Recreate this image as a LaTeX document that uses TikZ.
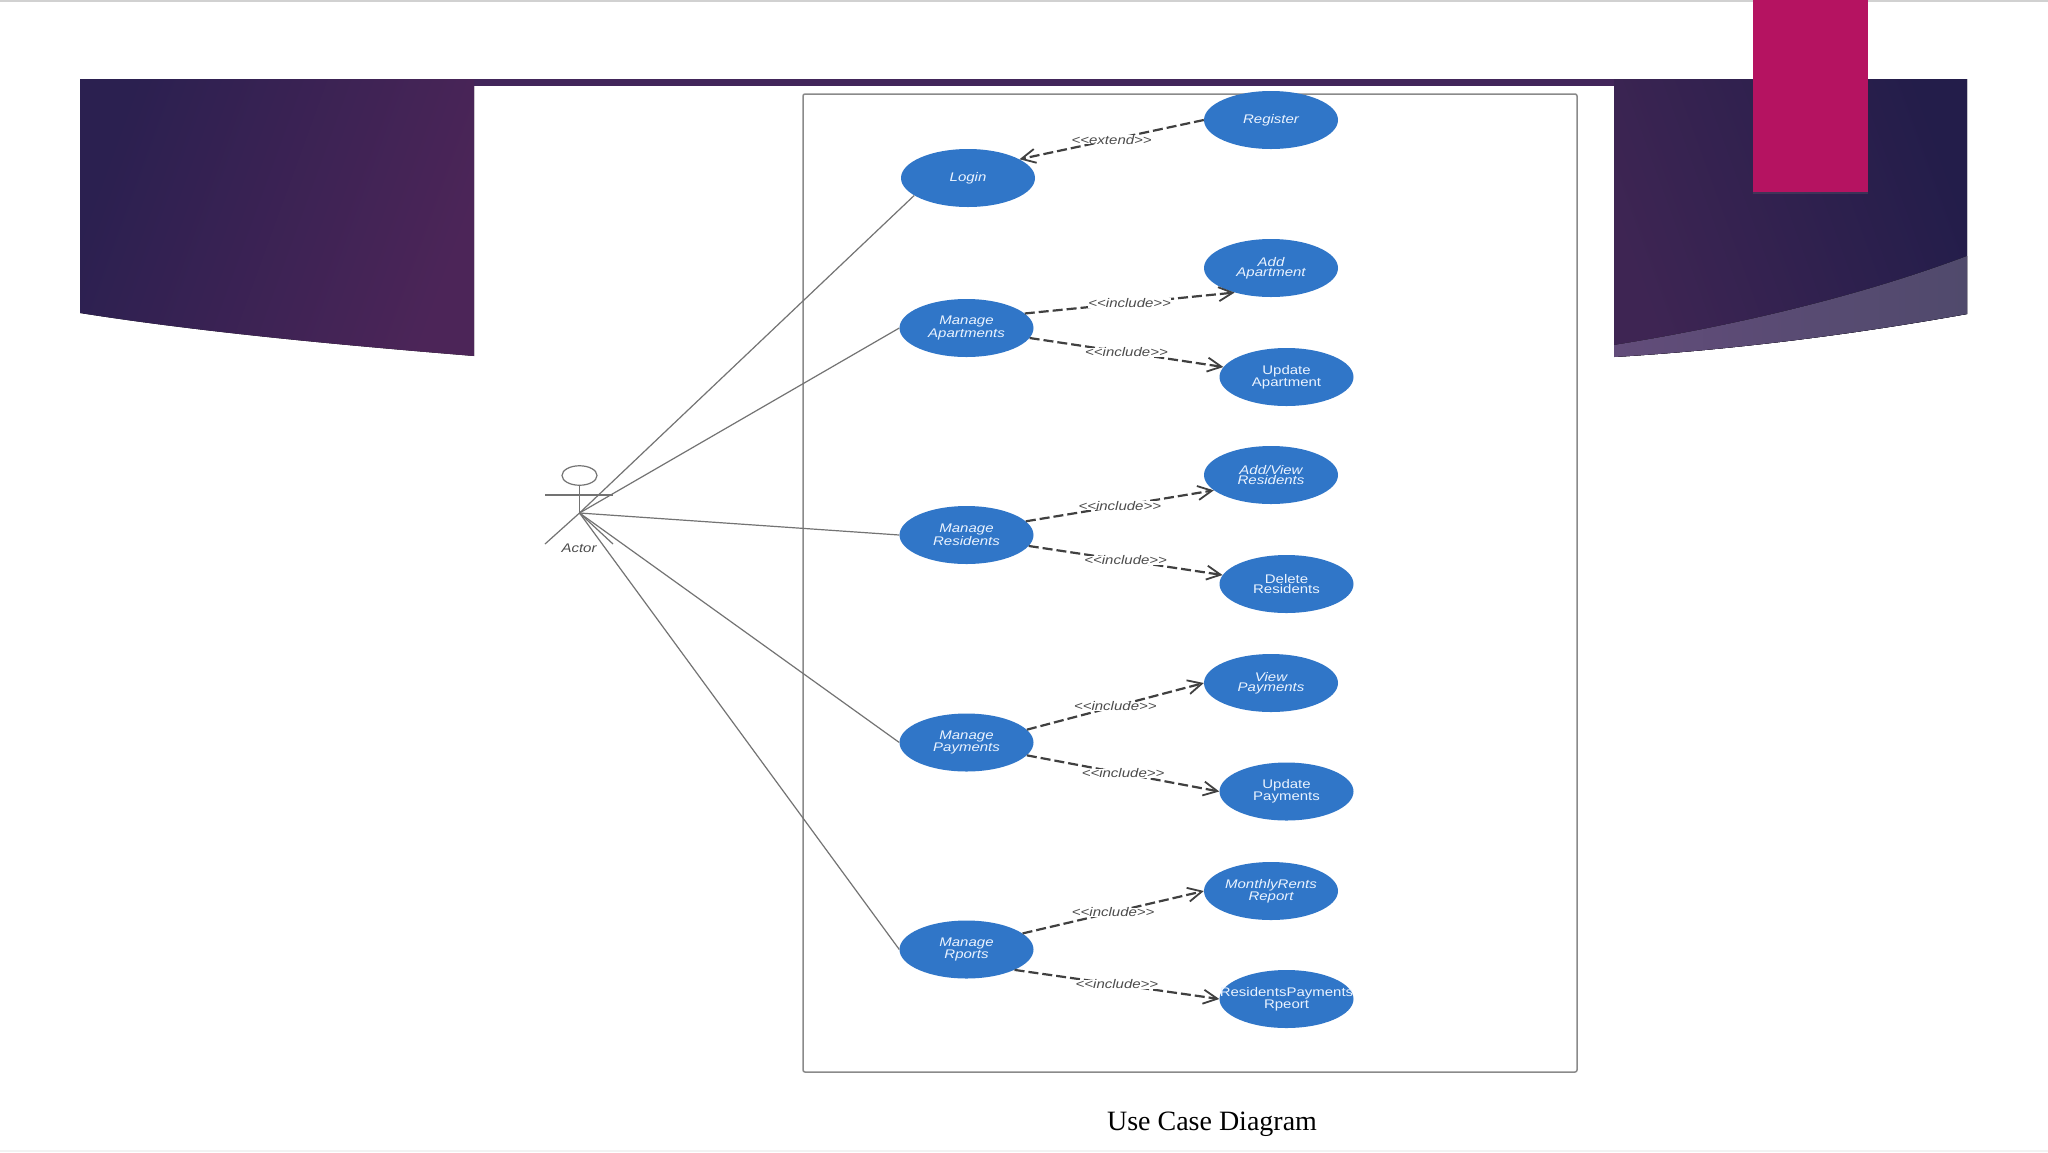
\documentclass[tikz,border=0pt]{standalone}
\usepackage{fontspec}
\setmainfont{Liberation Serif}
\newfontfamily\casefont[FakeStretch=1.2]{Liberation Sans}
\usetikzlibrary{arrows.meta}
\usetikzlibrary{shapes}
\usetikzlibrary{shadows}
\definecolor{caseblue}{HTML}{3076C8}
\definecolor{casetext}{HTML}{EAF3FF}
\definecolor{framegray}{HTML}{8A8A8A}
\definecolor{pinkbar}{HTML}{B51361}
\definecolor{bandleftA}{HTML}{2B2050}
\definecolor{bandleftB}{HTML}{4C2558}
\definecolor{bandrightA}{HTML}{3E2553}
\definecolor{bandrightB}{HTML}{231D4A}
\definecolor{swooshA}{HTML}{624C7A}
\definecolor{swooshB}{HTML}{504A6C}
\definecolor{bandstrip}{HTML}{42265A}
\tikzset{
  usecase/.style={ellipse, draw=none, fill=caseblue, text=casetext, minimum width=134pt, minimum height=58pt,
    inner sep=0pt, align=center, font=\casefont\fontsize{12.5}{10.2}\selectfont\itshape},
  usecaseup/.style={usecase, font=\casefont\fontsize{12.5}{10.2}\selectfont},
  assoc/.style={draw=black!55, line width=1.2pt},
  dep/.style={draw=black!75, line width=2.2pt, dash pattern=on 10pt off 4pt,
    -{Straight Barb[length=14pt, width=14pt, line width=1.8pt]}},
  deplabel/.style={midway, fill=white, inner sep=0pt, text=black!70, font=\casefont\fontsize{12.5}{14}\selectfont\itshape}
}
\begin{document}
\begin{tikzpicture}[x=1pt,y=-1pt]
  \useasboundingbox (0,0) rectangle (2048,1152);
  \fill[white] (0,0) rectangle (2048,1152);
  \fill[black!18] (0,0) rectangle (2048,1.5);
  \fill[black!5] (0,1150) rectangle (2048,1152);

  \fill[left color=bandleftA, right color=bandleftB, shading angle=70]
    (80,79) -- (474,79) -- (474,356) .. controls (340,345) and (200,332) .. (80,313) -- cycle;
  \fill[left color=bandrightA, right color=bandrightB, shading angle=110]
    (1614,79) -- (1967,79) -- (1967,314) .. controls (1850,335) and (1730,350) .. (1614,357) -- cycle;
  \fill[left color=swooshA, right color=swooshB]
    (1614,345) .. controls (1720,328) and (1850,300) .. (1967,256) -- (1967,314) .. controls (1850,335) and (1730,350) .. (1614,357) -- cycle;
  \fill[bandstrip] (474,79) rectangle (1614,86);
  \fill[pinkbar, drop shadow={shadow xshift=0pt, shadow yshift=-2pt, opacity=.2}] (1753,0) rectangle (1868,192);

  \draw[framegray, line width=1.5pt, rounded corners=2pt] (803,94) rectangle (1577,1072);

  \node[usecase] (login) at (968,178) {Login};
  \node[usecase] (register) at (1271,120) {Register};
  \node[usecase] (mgrapt) at (966.5,328) {Manage\\Apartments};
  \node[usecase] (addapt) at (1271,268) {Add\\Apartment};
  \node[usecaseup] (updapt) at (1286.5,377) {Update\\Apartment};
  \node[usecase] (mgrres) at (966.5,535) {Manage\\Residents};
  \node[usecase] (addres) at (1271,475) {Add/View\\Residents};
  \node[usecaseup] (delres) at (1286.5,584) {Delete\\Residents};
  \node[usecase] (mgrpay) at (966.5,742.5) {Manage\\Payments};
  \node[usecase] (viewpay) at (1271,683) {View\\Payments};
  \node[usecaseup] (updpay) at (1286.5,791.5) {Update\\Payments};
  \node[usecase] (mgrrep) at (966.5,949.5) {Manage\\Rports};
  \node[usecase] (rentrep) at (1271,891) {MonthlyRents\\Report};
  \node[usecaseup] (payrep) at (1286.5,999) {\makebox[0pt]{ResidentsPayments}\\Rpeort};

  \node[draw=black!55, line width=1.2pt, ellipse, minimum width=35pt, minimum height=19.5pt, inner sep=0pt] (actorhead) at (579.5,475.5) {};
  \coordinate (actorhip) at (579.5,513);
  \coordinate (armleft) at (545,495);
  \coordinate (armright) at (613,495);
  \coordinate (legleft) at (545,544);
  \coordinate (legright) at (613,544);
  \node[text=black!70, font=\casefont\fontsize{12.5}{14}\selectfont\itshape] (actorname) at (579,548) {Actor};
  \draw[assoc] (actorhead) -- (actorhip);
  \draw[assoc] (armleft) -- (armright);
  \draw[assoc] (legleft) -- (actorhip) -- (legright);

  \draw[assoc] (actorhip) -- (login.198);
  \draw[assoc] (actorhip) -- (mgrapt.west);
  \draw[assoc] (actorhip) -- (mgrres.west);
  \draw[assoc] (actorhip) -- (mgrpay.west);
  \draw[assoc] (actorhip) -- (mgrrep.west);

  \draw[dep] (register.west) -- node[deplabel] {<<extend>>} (login.20);
  \draw[dep] (mgrapt.14) -- node[deplabel] {<<include>>} (addapt.214);
  \draw[dep] (mgrapt.-9) -- node[deplabel] {<<include>>} (updapt.171);
  \draw[dep] (mgrres.13) -- node[deplabel] {<<include>>} (addres.195);
  \draw[dep] (mgrres.-10) -- node[deplabel] {<<include>>} (delres.172);
  \draw[dep] (mgrpay.12) -- node[deplabel] {<<include>>} (viewpay.west);
  \draw[dep] (mgrpay.-12) -- node[deplabel] {<<include>>} (updpay.west);
  \draw[dep] (mgrrep.16) -- node[deplabel] {<<include>>} (rentrep.west);
  \draw[dep] (mgrrep.-23) -- node[deplabel] {<<include>>} (payrep.west);

  \node[font=\fontsize{28}{30}\selectfont] (title) at (1212,1124) {Use Case Diagram};
\end{tikzpicture}
\end{document}
